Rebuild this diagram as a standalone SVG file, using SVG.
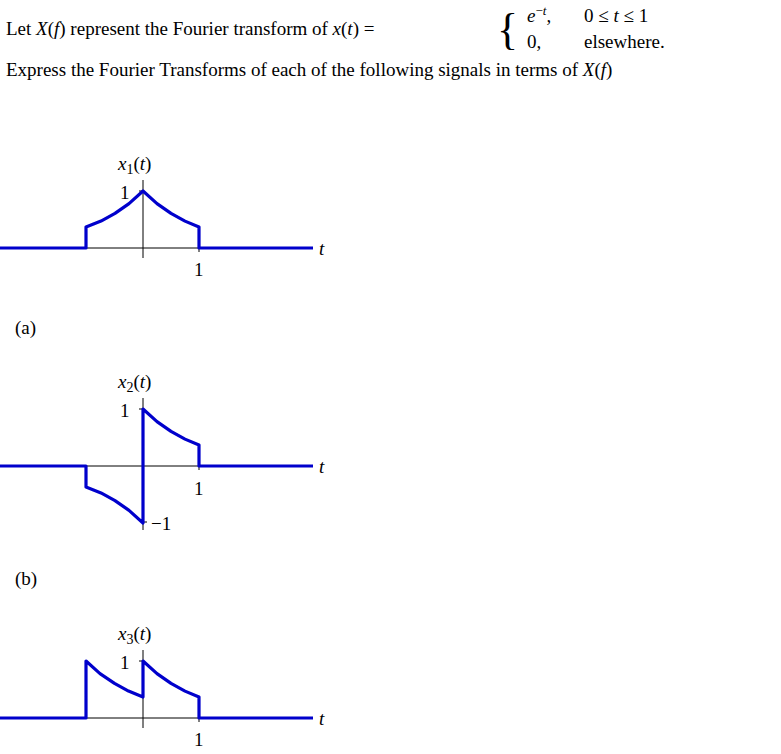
<svg xmlns="http://www.w3.org/2000/svg" width="781" height="754" viewBox="0 0 781 754">
<style>
text{font-family:"Liberation Serif","DejaVu Serif",serif;font-size:19px;fill:#000}
.i{font-style:italic}
.ax{stroke:#000;stroke-width:1;fill:none}
.sig{stroke:#0000cc;stroke-width:3.2;fill:none;stroke-linejoin:round}
</style>
<rect width="781" height="754" fill="#fff"/>
<g id="header">
<text x="6" y="35">Let <tspan class="i">X</tspan>(<tspan class="i">f</tspan>) represent the Fourier transform of <tspan class="i">x</tspan>(<tspan class="i">t</tspan>) =</text>
<text x="497" y="44" style="font-size:44px" transform="scale(1,1)">{</text>
<text x="527" y="22"><tspan class="i">e</tspan><tspan dy="-7" style="font-size:13px">−<tspan class="i">t</tspan></tspan><tspan dy="7">,</tspan></text>
<text x="584" y="22">0 ≤ <tspan class="i">t</tspan> ≤ 1</text>
<text x="527" y="48">0,</text>
<text x="584" y="48">elsewhere.</text>
<text x="6" y="76">Express the Fourier Transforms of each of the following signals in terms of <tspan class="i">X</tspan>(<tspan class="i">f</tspan>)</text>
</g>
<g id="plot-a">
<line class="ax" x1="0" y1="248" x2="313" y2="248"/>
<line class="ax" x1="143" y1="180" x2="143" y2="258"/>
<line class="ax" x1="139" y1="191" x2="143" y2="191"/>
<line class="ax" x1="199" y1="248" x2="199" y2="252"/>
<path class="sig" d="M0,248 H86 V227 L101,221.1 L115,213.4 L129,203.6 L143,191 L157,203.6 L171,213.4 L185,221.1 L199,227 V248 H313"/>
<text class="i" x="118" y="170">x<tspan dy="4" style="font-size:14px;font-style:normal">1</tspan><tspan dy="-4" style="font-style:normal">(</tspan>t<tspan style="font-style:normal">)</tspan></text>
<text x="120" y="199">1</text>
<text x="194" y="276">1</text>
<text class="i" x="319" y="255">t</text>
<text x="15" y="334">(a)</text>
</g>
<g id="plot-b">
<line class="ax" x1="0" y1="466" x2="313" y2="466"/>
<line class="ax" x1="143" y1="398" x2="143" y2="530"/>
<line class="ax" x1="139" y1="409" x2="143" y2="409"/>
<line class="ax" x1="143" y1="522" x2="147" y2="522"/>
<line class="ax" x1="199" y1="466" x2="199" y2="470"/>
<path class="sig" d="M0,466 H86 V487 L101,492.9 L115,500.6 L129,510.4 L143,523 V409 L157,421.6 L171,431.4 L185,439.1 L199,445 V466 H313"/>
<text class="i" x="118" y="388">x<tspan dy="4" style="font-size:14px;font-style:normal">2</tspan><tspan dy="-4" style="font-style:normal">(</tspan>t<tspan style="font-style:normal">)</tspan></text>
<text x="120" y="417">1</text>
<text x="151" y="530">−1</text>
<text x="194" y="495">1</text>
<text class="i" x="319" y="473">t</text>
<text x="15" y="585">(b)</text>
</g>
<g id="plot-c">
<line class="ax" x1="0" y1="718" x2="313" y2="718"/>
<line class="ax" x1="143" y1="650" x2="143" y2="728"/>
<line class="ax" x1="139" y1="661" x2="143" y2="661"/>
<line class="ax" x1="199" y1="718" x2="199" y2="722"/>
<path class="sig" d="M0,718 H86 V661 L100,673.6 L114.5,683.4 L128.5,691.1 L143,697 V661 L157,673.6 L171,683.4 L185,691.1 L199,697 V718 H313"/>
<text class="i" x="118" y="640">x<tspan dy="4" style="font-size:14px;font-style:normal">3</tspan><tspan dy="-4" style="font-style:normal">(</tspan>t<tspan style="font-style:normal">)</tspan></text>
<text x="120" y="669">1</text>
<text x="194" y="746">1</text>
<text class="i" x="319" y="725">t</text>
</g>
</svg>
